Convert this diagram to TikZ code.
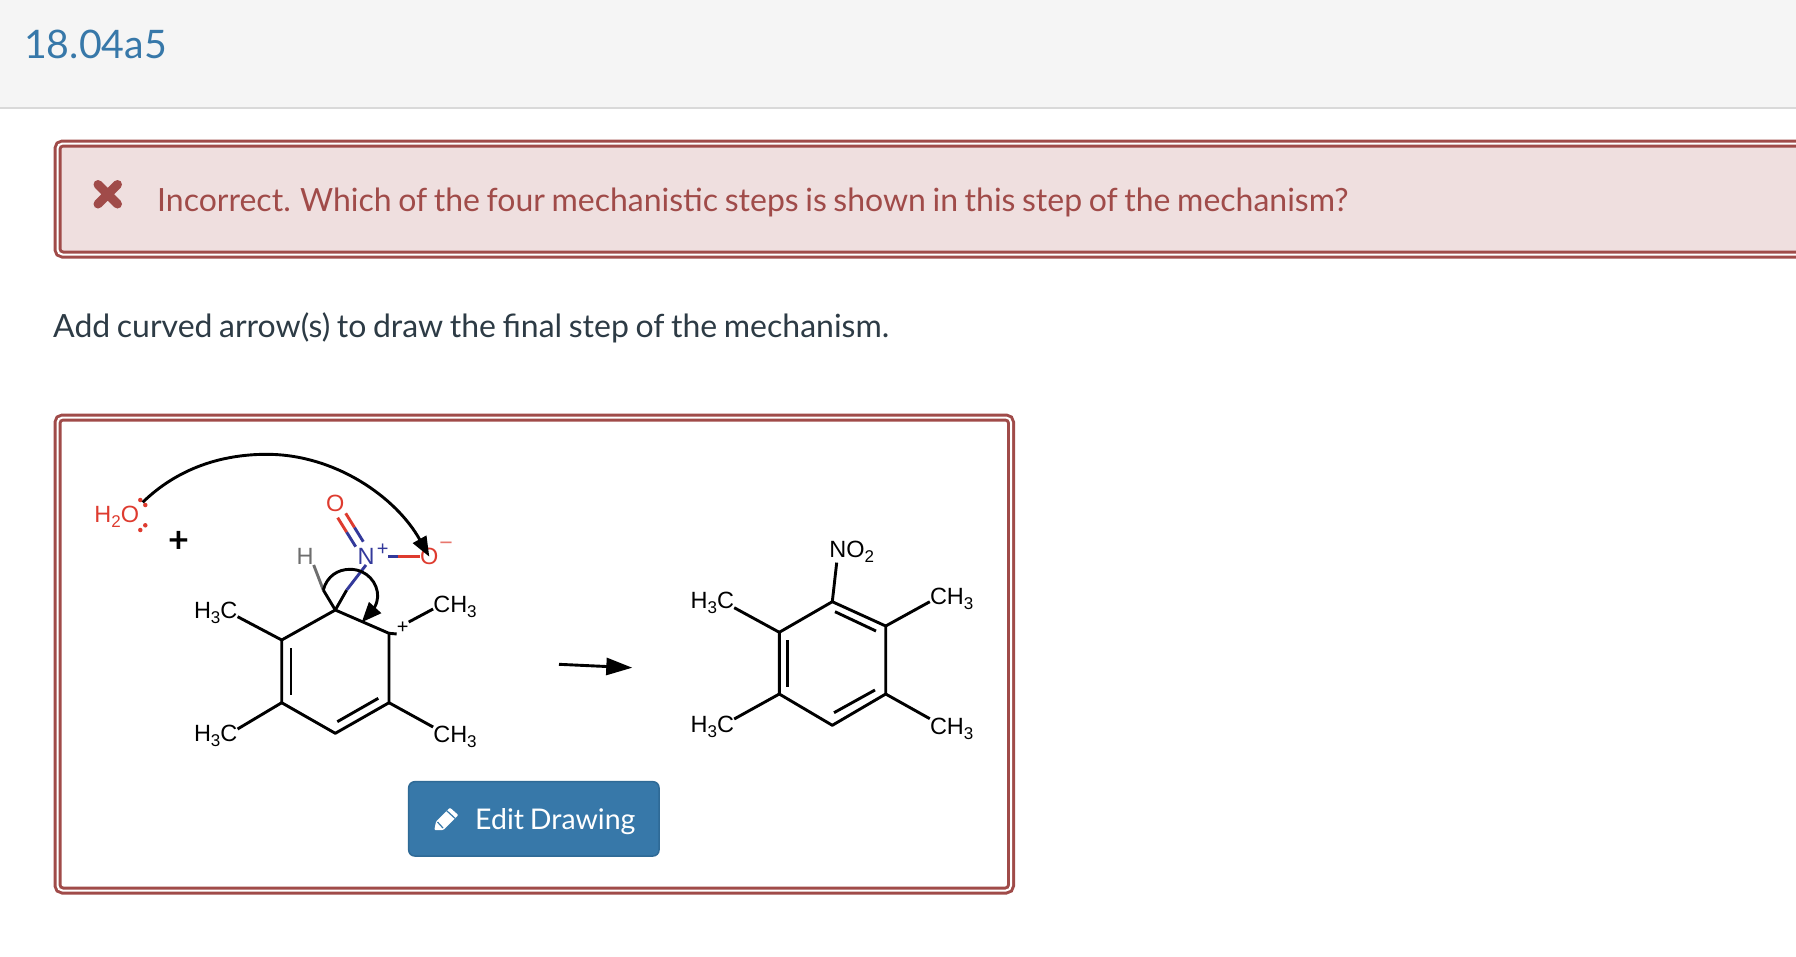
\documentclass[tikz,border=0pt]{standalone}
\usepackage{fontspec}
\setmainfont{Lato}
\newfontfamily\bodyfont{Lato}[WordSpace=0.8]
\newfontfamily\chemfont{Liberation Sans}
\usetikzlibrary{arrows.meta}
\definecolor{errred}{HTML}{A04B49}
\definecolor{errfill}{HTML}{EFDFDF}
\definecolor{linkblue}{HTML}{3778A9}
\definecolor{btnedge}{HTML}{2F6A96}
\definecolor{inktext}{HTML}{2D3B45}
\definecolor{atomred}{HTML}{DE3B2F}
\definecolor{atomblue}{HTML}{33399B}
\definecolor{atomgray}{HTML}{6E6E6E}
\newcommand{\chemsub}[1]{\raisebox{-5pt}{\fontsize{17}{18}\selectfont #1}}
\tikzset{
    bond/.style={line width=2.9pt},
    chem/.style={inner sep=0pt, font=\chemfont\fontsize{23.5}{24}\selectfont},
    smallchem/.style={inner sep=0pt, font=\chemfont\fontsize{20}{20}\selectfont},
    edgebox/.style={draw=errred, line width=3pt, double=white, double distance=2pt, rounded corners=5pt},
    lonepair/.style={circle, fill=atomred, inner sep=0pt, minimum size=4.5pt},
    curved/.style={line width=2.9pt, -{Triangle[length=20pt,width=15pt]}}
}
\begin{document}
\begin{tikzpicture}[x=1pt, y=-1pt]
    \clip (0,0) rectangle (1796,956);
    \fill[white] (0,0) rectangle (1796,956);
    % page head
    \fill[black!4] (0,0) rectangle (1796,108);
    \draw[black!15, line width=2pt] (0,108) -- (1796,108);
    \node[anchor=base west, inner sep=0pt, text=linkblue, font=\fontsize{39.3}{40}\selectfont] (title) at (24,58) {18.04a5};
    % error box
    \draw[edgebox, fill=errfill] (57.5,143.5) rectangle (1830,254.5);
    \draw[errred, line width=9pt, line cap=round] (98,184.5) -- (117.5,204) (117.5,184.5) -- (98,204);
    \node[anchor=base west, inner sep=0pt, text=errred, font=\bodyfont\fontsize{32}{36}\selectfont] (errmsg) at (157,211) {Incorrect. Which of the four mechanistic steps is shown in this step of the mechanism?};
    \node[anchor=base west, inner sep=0pt, text=inktext, font=\bodyfont\fontsize{32}{36}\selectfont] (prompt) at (53,337) {Add curved arrow(s) to draw the final step of the mechanism.};
    % drawing frame
    \draw[edgebox] (57.5,417.5) rectangle (1011,890.5);
    % left ring
    \coordinate (a1) at (335.3,610);
    \coordinate (a2) at (389,633.3);
    \coordinate (a3) at (389,702.7);
    \coordinate (a4) at (335.3,733.3);
    \coordinate (a5) at (281.7,702.7);
    \coordinate (a6) at (281.7,640);
    \draw[bond, line join=round] (a1) -- (a2) -- (a3) -- (a4) -- (a5) -- (a6) -- cycle;
    \draw[bond] (291,648.3) -- (291,695);
    \draw[bond] (337.3,721.7) -- (378.3,698.3);
    \node[chem] (meA) at (215.7,612.7) {H\chemsub{3}C};
    \node[chem] (meB) at (215.7,736) {H\chemsub{3}C};
    \node[chem] (meC) at (455,607) {CH\chemsub{3}};
    \node[chem] (meD) at (455,737) {CH\chemsub{3}};
    \node[smallchem] (cplus) at (402.7,628) {+};
    \draw[bond] (a6) -- ([yshift=-4pt]meA.east);
    \draw[bond] (a5) -- ([yshift=7pt]meB.east);
    \draw[bond] (a2) -- (cplus.south west);
    \draw[bond] (cplus.north east) -- ([yshift=-2pt]meC.west);
    \draw[bond] (a3) -- ([yshift=10pt]meD.west);
    % nitro group
    \node[chem, text=atomgray] (hyd) at (305,556.7) {H};
    \node[chem, text=atomblue] (nit) at (366,556.7) {N};
    \node[chem, text=atomred] (oxa) at (335.3,503.3) {O};
    \node[chem, text=atomred] (oxb) at (429.3,556.7) {O};
    \node[smallchem, text=atomblue] (nplus) at (382.7,549.5) {+};
    \node[smallchem, text=atomred!70, font=\chemfont\fontsize{23}{23}\selectfont] (ominus) at (446,546.5) {\textminus};
    \coordinate (ab) at (323.3,590);
    \coordinate (an) at (346.7,590);
    \draw[bond, atomgray] (ab) -- (hyd.south east);
    \draw[bond] (a1) -- (ab);
    \draw[bond] (a1) -- (an);
    \draw[bond, atomblue] (an) -- (nit.south);
    \draw[bond, atomred] (337.7,517.7) -- (346.7,532.2) (345.7,513.3) -- (354.5,527.5);
    \draw[bond, atomblue] (346.7,532.2) -- (355.7,546.7) (354.5,527.5) -- (363.3,541.7);
    \draw[bond, atomblue] (388.3,556.7) -- (398.3,556.7);
    \draw[bond, atomred] (398.3,556.7) -- (oxb.west);
    % water
    \node[chem, text=atomred] (wat) at (116.7,517) {H\chemsub{2}O};
    \node[lonepair] (lpa) at (140.3,500) {};
    \node[lonepair] (lpb) at (145.3,505) {};
    \node[lonepair] (lpc) at (140.3,530) {};
    \node[lonepair] (lpd) at (145.3,525.3) {};
    \node[inner sep=0pt, font=\fontsize{36}{36}\selectfont\bfseries] (plus) at (179.3,542) {+};
    % curved arrows
    \coordinate (wstart) at (142.7,502.3);
    \coordinate (wtop) at (266.7,454.3);
    \draw[curved] (wstart) .. controls (178,468) and (222,454.3) .. (wtop) .. controls (335,454.3) and (396,497) .. (oxb.center);
    \coordinate (rtop) at (350,569.3);
    \coordinate (rside) at (377.7,596.7);
    \coordinate (rtip) at (361.7,622.3);
    \draw[curved, -{Triangle[length=20pt,width=16pt]}] (ab) .. controls (327,576) and (338,569.3) .. (rtop) .. controls (367,569.3) and (378,583) .. (rside) .. controls (377.5,604) and (372,611) .. (rtip);
    % reaction arrow
    \coordinate (rxa) at (559,664.3);
    \coordinate (rxb) at (632.3,667.7);
    \draw[bond, -{Triangle[length=26pt,width=17pt]}] (rxa) -- (rxb);
    % right ring
    \coordinate (b1) at (832.3,601.7);
    \coordinate (b2) at (885.7,626);
    \coordinate (b3) at (885.7,694);
    \coordinate (b4) at (832.3,725.3);
    \coordinate (b5) at (779.3,694);
    \coordinate (b6) at (779.3,632.3);
    \draw[bond, line join=round] (b1) -- (b2) -- (b3) -- (b4) -- (b5) -- (b6) -- cycle;
    \draw[bond] (787.7,640) -- (787.7,686.7);
    \draw[bond] (835,611.7) -- (876,631);
    \draw[bond] (834,712.7) -- (875,690);
    \node[chem] (nod) at (851.7,551.7) {NO\chemsub{2}};
    \node[chem] (meE) at (712.3,602.7) {H\chemsub{3}C};
    \node[chem] (meF) at (712.3,727) {H\chemsub{3}C};
    \node[chem] (meG) at (951.7,598.7) {CH\chemsub{3}};
    \node[chem] (meH) at (951.7,728.7) {CH\chemsub{3}};
    \draw[bond] (b1) -- ([xshift=-15pt]nod.south);
    \draw[bond] (b6) -- ([yshift=-5pt]meE.east);
    \draw[bond] (b5) -- ([yshift=8pt]meF.east);
    \draw[bond] (b2) -- ([yshift=-3pt]meG.west);
    \draw[bond] (b3) -- ([yshift=10pt]meH.west);
    % button
    \draw[draw=btnedge, fill=linkblue, line width=1.5pt, rounded corners=6pt] (408.7,781.7) rectangle (659,856);
    \fill[white, rounded corners=1pt] (434.3,830) -- (436,821.7) -- (450,807.7) -- (458.3,815) -- (443.3,830) -- cycle;
    \draw[linkblue, line width=1.2pt] (446.7,810.7) -- (455,818.3) (437.5,822) -- (443,828);
    \node[anchor=base west, inner sep=0pt, text=white, font=\bodyfont\fontsize{28.5}{30}\selectfont] (btn) at (475,829.5) {Edit Drawing};
\end{tikzpicture}
\end{document}
